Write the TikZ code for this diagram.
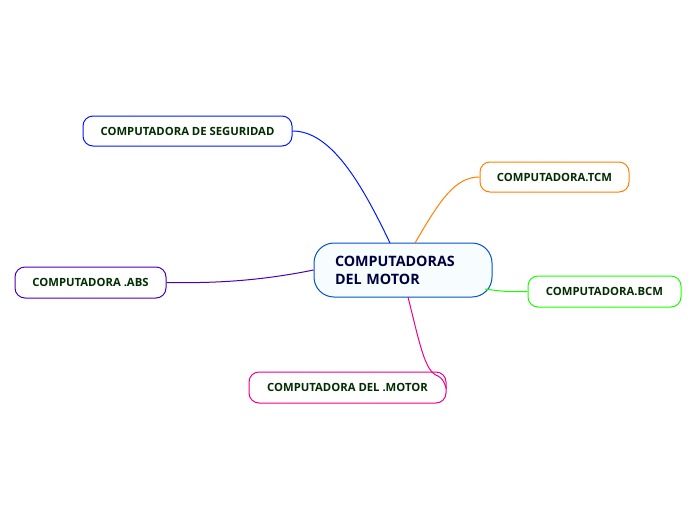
\documentclass[tikz,border=0pt]{standalone}
\usepackage{fontspec}
\setmainfont{Open Sans}
\begin{document}
\begin{tikzpicture}[x=1pt,y=-1pt,
  leaf/.style={draw,line width=1pt,rounded corners=10pt,fill=white,inner sep=0pt,font=\bfseries\fontsize{11.3}{13}\selectfont,text=black!70!green!60!black},
  link/.style={line width=1pt}]
\useasboundingbox (0,0) rectangle (696,520);
\node[draw=blue!60!cyan!80!black,line width=1pt,rounded corners=20pt,fill=cyan!3,minimum width=178pt,minimum height=54pt,text width=136pt,align=left,text=blue!25!black,font=\bfseries\fontsize{14.3}{18}\selectfont,inner sep=0pt] (c) at (403,270) {COMPUTADORAS\\DEL MOTOR};
\node[leaf,draw=blue!90!cyan,minimum width=209pt,minimum height=30pt] (s) at (187.5,131) {COMPUTADORA DE SEGURIDAD};
\node[leaf,draw=orange,minimum width=149pt,minimum height=30pt] (t) at (554.5,177) {COMPUTADORA.TCM};
\node[leaf,draw=violet!60!blue,minimum width=151pt,minimum height=31pt] (a) at (90.5,282.5) {COMPUTADORA .ABS};
\node[leaf,draw=green!90!yellow,minimum width=153pt,minimum height=31pt] (b) at (604.5,291.5) {COMPUTADORA.BCM};
\node[leaf,draw=magenta,minimum width=197pt,minimum height=31pt] (m) at (347.5,387.5) {COMPUTADORA DEL .MOTOR};
\draw[link,draw=blue!90!cyan] (390,243) .. controls (360,180) and (330,131) .. (s.east);
\draw[link,draw=orange] (415,243) .. controls (440,200) and (455,177) .. (t.west);
\draw[link,draw=violet!60!blue] (c.west) .. controls (250,283) and (200,283) .. (a.east);
\draw[link,draw=green!90!yellow] (485,289) .. controls (505,292) and (515,292) .. (b.west);
\draw[link,draw=magenta] (408,297) .. controls (420,345) and (425,372) .. (438,376) .. controls (446,380) and (446,392) .. (m.east);
\end{tikzpicture}
\end{document}
